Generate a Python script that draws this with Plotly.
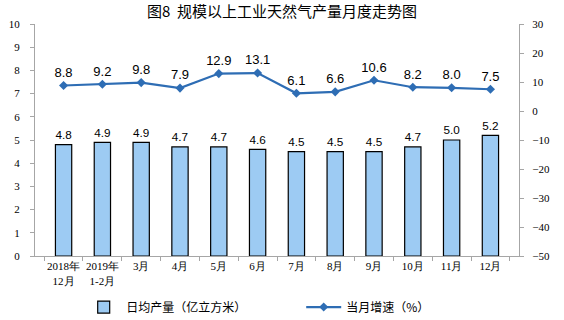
import plotly.graph_objects as go

categories = ["2018年<br>12月", "2019年<br>1-2月", "3月", "4月", "5月", "6月", "7月", "8月", "9月", "10月", "11月", "12月"]
daily_output = [4.8, 4.9, 4.9, 4.7, 4.7, 4.6, 4.5, 4.5, 4.5, 4.7, 5.0, 5.2]
growth = [8.8, 9.2, 9.8, 7.9, 12.9, 13.1, 6.1, 6.6, 10.6, 8.2, 8.0, 7.5]
left_ticks = list(range(0, 11))
right_ticks = list(range(-50, 31, 10))

fig = go.Figure()
fig.add_trace(go.Bar(
    x=categories, y=daily_output, name="日均产量（亿立方米）",
    marker=dict(color="#9DCBF3", line=dict(color="#000000", width=1.2)),
    width=0.42,
    text=[f"{v:.1f}" for v in daily_output], textposition="outside",
    textfont=dict(family="Liberation Sans, Arial", size=13, color="#000"),
    cliponaxis=False,
))
fig.add_trace(go.Scatter(
    x=categories, y=growth, name="当月增速（%）", yaxis="y2",
    mode="lines+markers+text",
    line=dict(color="#2E6DB4", width=2.2),
    marker=dict(symbol="diamond", size=7, color="#2E6DB4"),
    text=[f"{v:.1f}" for v in growth], textposition="top center",
    textfont=dict(family="Liberation Sans, Arial", size=13, color="#000"),
    cliponaxis=False,
))

tickfont = dict(family="Liberation Serif, Times New Roman", size=11, color="#000")
fig.update_layout(
    width=564, height=320,
    margin=dict(l=35, r=45, t=24, b=64, autoexpand=False),
    paper_bgcolor="white", plot_bgcolor="white",
    title=dict(text="图8  规模以上工业天然气产量月度走势图", x=0.5, xanchor="center",
               y=1 - 12 / 320, yanchor="middle",
               font=dict(family="Noto Sans CJK SC", size=15, color="#000")),
    showlegend=True,
    legend=dict(orientation="h", x=0.55, xanchor="center", y=-0.22, yanchor="middle",
                font=dict(family="Noto Sans CJK SC", size=12, color="#000"),
                itemwidth=35, tracegroupgap=0, traceorder="normal", entrywidth=170,
                bgcolor="rgba(0,0,0,0)"),
    xaxis=dict(
        type="category", showline=True, linecolor="#A6A6A6", linewidth=1,
        ticks="outside", tickson="boundaries", ticklen=4, tickcolor="#A6A6A6",
        tickfont=tickfont, tickangle=0, automargin=False,
        showgrid=False,
    ),
    yaxis=dict(
        range=[0, 10], tickvals=left_ticks, showline=True, linecolor="#A6A6A6", linewidth=1,
        ticks="outside", ticklen=4, tickcolor="#A6A6A6", showgrid=False, zeroline=False,
        tickfont=tickfont, automargin=False, ticklabelstandoff=8,
    ),
    yaxis2=dict(
        range=[-50, 30], tickvals=right_ticks, overlaying="y", side="right",
        showline=True, linecolor="#A6A6A6", linewidth=1,
        ticks="outside", ticklen=4, tickcolor="#A6A6A6", showgrid=False, zeroline=False,
        tickfont=tickfont, automargin=False, ticklabelstandoff=6,
    ),
    bargap=0.58,
)

fig.write_html("out.html")
